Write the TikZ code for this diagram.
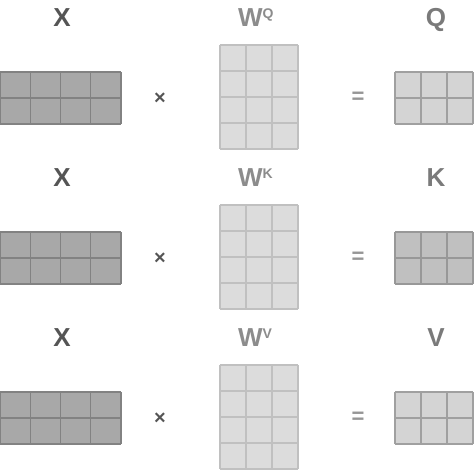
\documentclass[tikz,border=0pt]{standalone}
\usepackage{fontspec}
\setmainfont{Liberation Sans}
\definecolor{inputfill}{RGB}{168,168,168}
\definecolor{inputline}{RGB}{130,130,130}
\definecolor{weightfill}{RGB}{220,220,220}
\definecolor{weightline}{RGB}{192,192,192}
\definecolor{lightfill}{RGB}{212,212,212}
\definecolor{lightline}{RGB}{160,160,160}
\definecolor{darkfill}{RGB}{192,192,192}
\definecolor{darkline}{RGB}{152,152,152}
\definecolor{inputtext}{RGB}{85,85,85}
\definecolor{weighttext}{RGB}{140,140,140}
\definecolor{outputtext}{RGB}{122,122,122}
\definecolor{signtext}{RGB}{150,150,150}

\begin{document}
\begin{tikzpicture}[x=1pt,y=-1pt,
  lbl/.style={font=\fontsize{26}{26}\selectfont\bfseries,inner sep=0pt},
  gridline/.style={line width=1.3pt}]
\useasboundingbox (0,0) rectangle (474,474);
\foreach \r/\s/\ofill/\oline in {0/Q/lightfill/lightline,160/K/darkfill/darkline,320/V/lightfill/lightline} {
  % Labels
  \node[lbl,text=inputtext,anchor=base] (x\s) at (62,26+\r) {X};
  \node[lbl,text=weighttext,anchor=base west] (w\s) at (238,26+\r)
    {W\raisebox{8pt}{\fontsize{14}{14}\selectfont\s}};
  \node[lbl,text=outputtext,anchor=base] (o\s) at (436,26+\r) {\s};
  % Input matrix, 2 x 4
  \fill[inputfill] (0,72+\r) rectangle (121,124+\r);
  \foreach \c in {0,30.25,60.5,90.75,121}
    \draw[gridline,inputline] (\c,72+\r) -- (\c,124+\r);
  \foreach \d in {72,98,124}
    \draw[gridline,inputline] (0,\d+\r) -- (121,\d+\r);
  % Times sign
  \node[font=\fontsize{20}{20}\selectfont\bfseries,text=inputtext] (t\s) at (160,99+\r) {×};
  % Weight matrix, 4 x 3
  \fill[weightfill] (220,45+\r) rectangle (298,149+\r);
  \foreach \c in {220,246,272,298}
    \draw[gridline,weightline] (\c,45+\r) -- (\c,149+\r);
  \foreach \d in {45,71,97,123,149}
    \draw[gridline,weightline] (220,\d+\r) -- (298,\d+\r);
  % Equals sign
  \node[font=\fontsize{22}{22}\selectfont\bfseries,text=signtext] (e\s) at (358,98+\r) {=};
  % Output matrix, 2 x 3
  \fill[\ofill] (395,72+\r) rectangle (473,124+\r);
  \foreach \c in {395,421,447,473}
    \draw[gridline,\oline] (\c,72+\r) -- (\c,124+\r);
  \foreach \d in {72,98,124}
    \draw[gridline,\oline] (395,\d+\r) -- (473,\d+\r);
}
\end{tikzpicture}
\end{document}
